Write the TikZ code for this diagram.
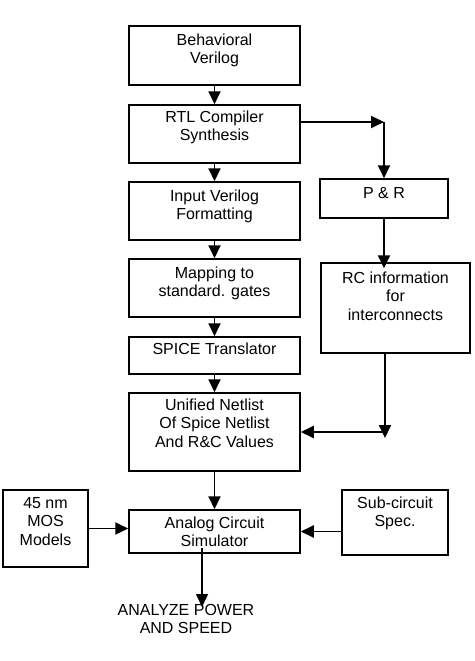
\documentclass[tikz,border=0pt]{standalone}
\usepackage{fontspec}
\setmainfont{Liberation Sans}
\usetikzlibrary{arrows.meta}
\begin{document}
\begin{tikzpicture}[x=1pt,y=-1pt,
  main node/.style={draw,rectangle,line width=1.5pt,inner sep=0pt},
  txt/.style={anchor=north,align=center,inner sep=0pt,font=\fontsize{16}{18.5}\selectfont},
  arr/.style={-{Triangle[length=13pt,width=12pt]},line width=1.9pt}]

  \useasboundingbox (0,0) rectangle (474,661);

  \node[main node,minimum width=171,minimum height=59,
    label={[txt,yshift=-8]north:Behavioral\\Verilog}] (bv) at (214.5,55.5){};
  \node[main node,minimum width=171,minimum height=58,
    label={[txt,yshift=-6]north:RTL Compiler\\Synthesis}] (rtl) at (214.5,134){};
  \node[main node,minimum width=171,minimum height=58,
    label={[txt,yshift=-8]north:Input Verilog\\Formatting}] (ivf) at (214.5,211){};
  \node[main node,minimum width=171,minimum height=58,
    label={[txt,yshift=-8]north:Mapping to\\standard. gates}] (map) at (214.5,288){};
  \node[main node,minimum width=171,minimum height=37,
    label={[txt,yshift=-6]north:SPICE Translator}] (spt) at (214.5,355.5){};
  \node[main node,minimum width=171,minimum height=78,
    label={[txt,yshift=-6]north:Unified Netlist\\Of Spice Netlist\\And R\&C Values}] (un) at (214.5,432){};
  \node[main node,minimum width=171,minimum height=43,
    label={[txt,yshift=-7]north:Analog Circuit\\Simulator}] (an) at (214.5,531.5){};

  \node[main node,minimum width=128,minimum height=39,
    label={[txt,yshift=-9]north:P \& R}] (pr) at (384,198.5){};
  \node[main node,minimum width=149,minimum height=90,
    label={[txt,yshift=-9]north:RC information\\for\\interconnects}] (rc) at (395.5,308){};

  \node[main node,minimum width=85,minimum height=77,
    label={[txt,yshift=-8]north:45 nm\\MOS\\Models}] (mos) at (45.5,528.5){};
  \node[main node,minimum width=106,minimum height=65,
    label={[txt,yshift=-7]north:Sub-circuit\\Spec.}] (sub) at (395,522.5){};

  \node[txt] (res) at (186,604){ANALYZE POWER\\AND SPEED};

  \coordinate (c1) at (384,122);
  \coordinate (c2) at (385,438);
  \coordinate (o1) at (202,548);
  \coordinate (o2) at (202,607);

  \path[arr]
    (bv) edge (rtl)
    (rtl) edge (ivf)
    (ivf) edge (map)
    (map) edge (spt)
    (spt) edge (un)
    (un) edge (an);

  \draw[arr] (rtl.east |- c1) -- (c1);
  \draw[arr] (c1) -- (pr.north);
  \draw[arr] (pr.south) -- ([yshift=-6]pr.south |- rc.north);
  \draw[arr] (rc.south -| c2) -- (c2);
  \draw[arr] (un.east -| c2) -- (un.east);
  \draw[arr] (mos.east) -- (mos.east -| an.west);
  \draw[arr] (an.east -| sub.west) -- (an.east);
  \draw[arr,line width=1.5pt] (o1) -- (o2);
\end{tikzpicture}
\end{document}
